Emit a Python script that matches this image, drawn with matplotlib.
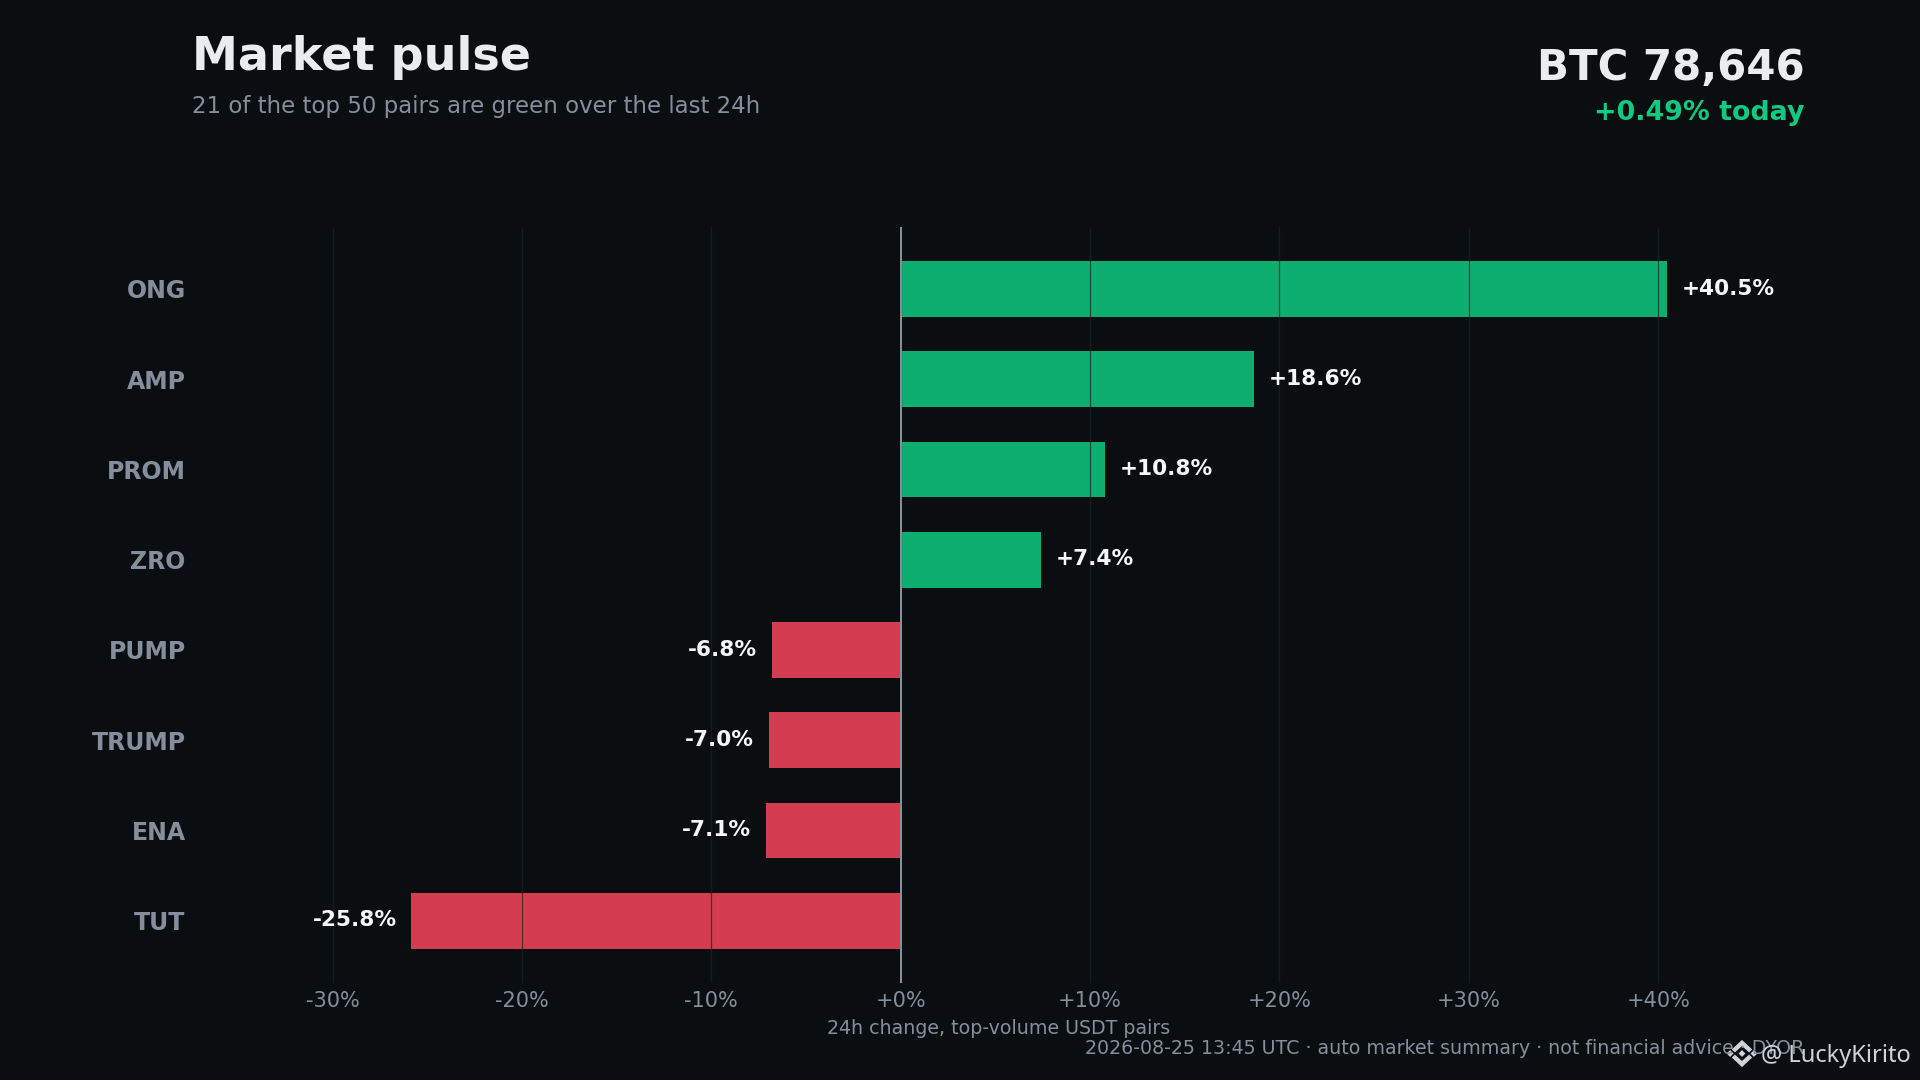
import matplotlib
matplotlib.use("Agg")
import matplotlib.pyplot as plt
from matplotlib.patches import Polygon

symbols = ["ONG", "AMP", "PROM", "ZRO", "PUMP", "TRUMP", "ENA", "TUT"]
changes = [40.46, 18.65, 10.8, 7.4, -6.8, -6.97, -7.1, -25.84]
xticks = [-30, -20, -10, 0, 10, 20, 30, 40]
xticklabels = ["-30%", "-20%", "-10%", "+0%", "+10%", "+20%", "+30%", "+40%"]

BG = "#0b0e11"
GREEN = "#0ead70"
RED = "#d43d51"
MUTED = "#848e9c"

plt.rcParams["font.family"] = "DejaVu Sans"
fig = plt.figure(figsize=(19.2, 10.8), dpi=100, facecolor=BG)
ax = fig.add_axes([192/1920, 1-983/1080, (1805-192)/1920, (983-227)/1080], facecolor=BG)

ypos = list(range(len(symbols)))
colors = [GREEN if v > 0 else RED for v in changes]
ax.barh(ypos, changes, height=0.62, color=colors, zorder=2)
ax.set_xlim(-37.42, 47.75)
ax.set_ylim(7.69, -0.687)
ax.set_axisbelow(False)
ax.grid(axis="x", color="#1a2229", alpha=0.7, linewidth=0.9)
ax.axvline(0, color="#848e9c", linewidth=1.44, zorder=4)
for s in ax.spines.values():
    s.set_visible(False)
ax.set_yticks(ypos)
ax.set_yticklabels(symbols, fontsize=17, fontweight="bold", color=MUTED)
ax.set_xticks(xticks)
ax.set_xticklabels(xticklabels, fontsize=15, color=MUTED)
ax.tick_params(axis="x", length=0, pad=5.5)
ax.tick_params(axis="y", length=0, pad=4.5)
ax.set_xlabel("24h change, top-volume USDT pairs", fontsize=13.7, color=MUTED, labelpad=6)

for y, v in zip(ypos, changes):
    off = 10.6 if v > 0 else -10.6
    ax.annotate(f"{v:+.1f}%", (v, y), xytext=(off, 0.3), textcoords="offset points",
                ha="left" if v > 0 else "right", va="center", fontsize=15.6, fontweight="bold",
                color="#f5f6f7", zorder=5)

fig.text(192/1920, 1-57/1080, "Market pulse", fontsize=33.2, fontweight="bold", color="#eaecef", va="center")
fig.text(192/1920, 1-107/1080, "21 of the top 50 pairs are green over the last 24h", fontsize=16.5, color=MUTED, va="center")
fig.text(1804.5/1920, 1-68/1080, "BTC 78,646", fontsize=30.2, fontweight="bold", color="#eaecef", va="center", ha="right")
fig.text(1804/1920, 1-113/1080, "+0.49% today", fontsize=19.4, fontweight="bold", color="#0ecb81", va="center", ha="right")
fig.text(1804.5/1920, 1-1048/1080, "2026-08-25 13:45 UTC · auto market summary · not financial advice · DYOR", fontsize=13.65, color=MUTED, va="center", ha="right")
fig.text(1911/1920, 1-1056/1080, "@ LuckyKirito", fontsize=17, color="#cfd3d8", va="center", ha="right", family="Noto Sans")

# Binance-style watermark icon, placed in figure pixels
cx, cy, u = 1742, 1053.5, 3.4
shapes = [
    [(0, -1), (1, 0), (0, 1), (-1, 0)],
    [(-3.5, -1), (-2.5, 0), (-3.5, 1), (-4.5, 0)],
    [(3.5, -1), (4.5, 0), (3.5, 1), (2.5, 0)],
    [(0, -4), (3, -1.2), (2.1, -0.3), (0, -2.2), (-2.1, -0.3), (-3, -1.2)],
    [(0, 4), (3, 1.2), (2.1, 0.3), (0, 2.2), (-2.1, 0.3), (-3, 1.2)],
]
W, H = fig.get_size_inches() * fig.dpi
for s in shapes:
    fig.add_artist(Polygon([((cx + px*u)/W, 1 - (cy + py*u)/H) for px, py in s],
                           closed=True, facecolor="#cfd3d8", edgecolor="none",
                           transform=fig.transFigure))

fig.savefig("out.png", dpi=100, facecolor=BG)
